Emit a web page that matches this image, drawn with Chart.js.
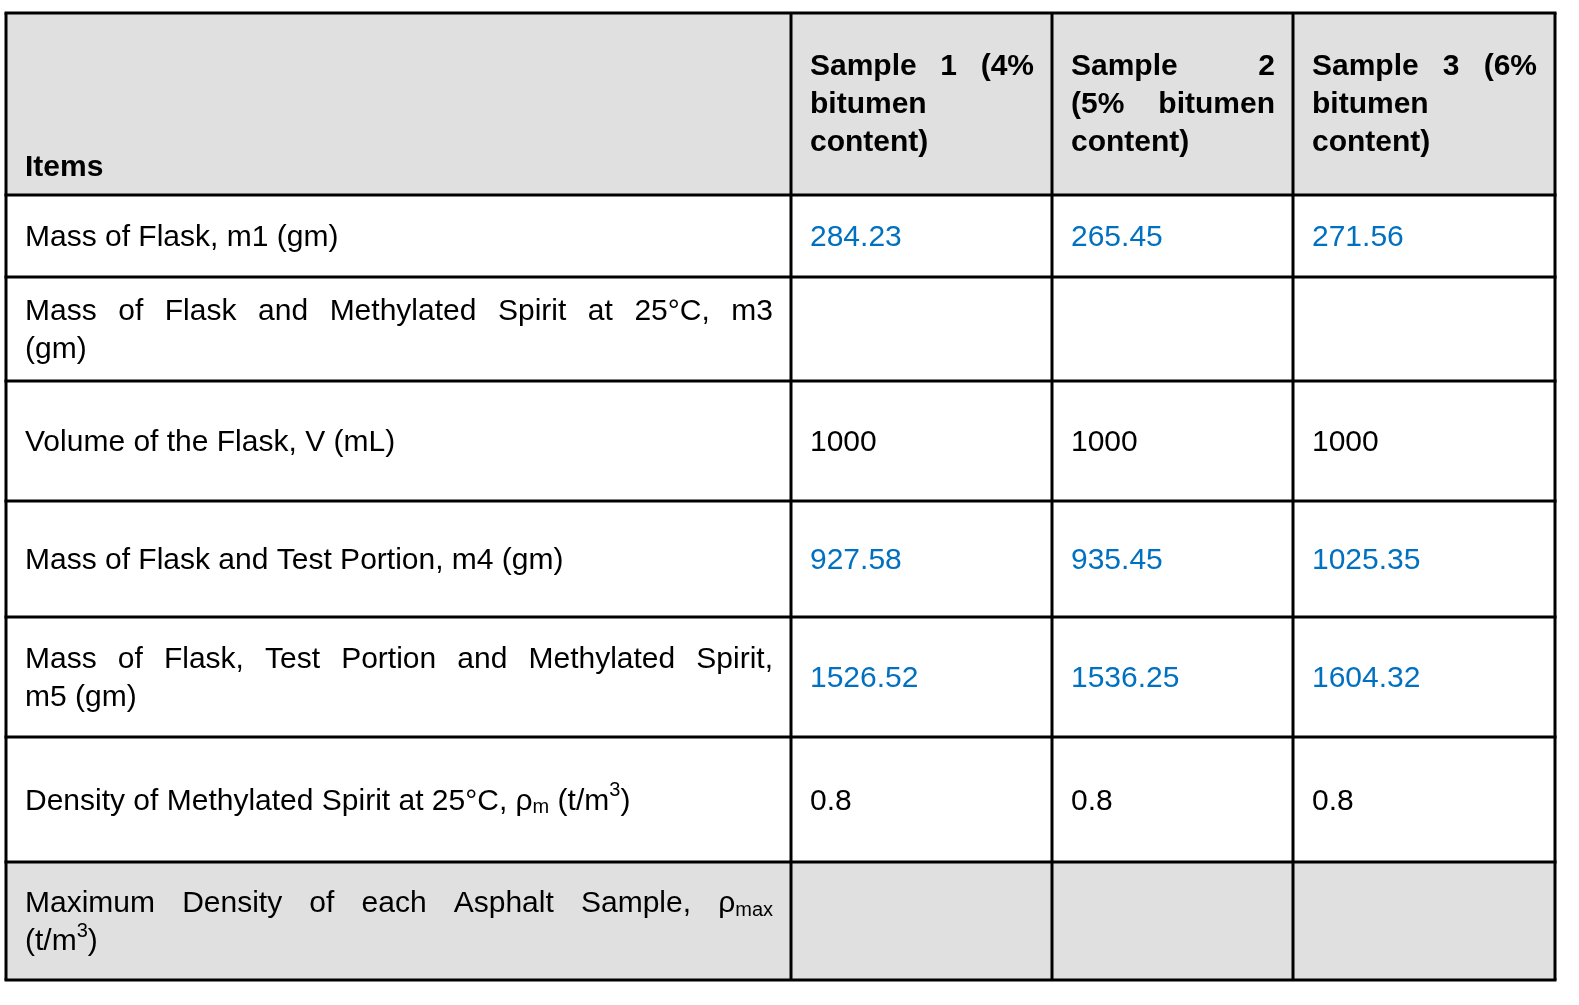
<!DOCTYPE html>
<html><head><meta charset="utf-8">
<script src="https://cdn.jsdelivr.net/npm/chart.js@4/dist/chart.umd.min.js"></script>
<style>html,body{margin:0;padding:0;background:#fff}#w{width:1579px;height:1005px}</style>
</head><body><div id="w"><canvas id="c"></canvas></div>
<script>
// Table content
const headers = [["Items"], ["Sample 1 (4%","bitumen","content)"], ["Sample 2","(5% bitumen","content)"], ["Sample 3 (6%","bitumen","content)"]];
const items = [
  ["Mass of Flask, m1 (gm)"],
  ["Mass of Flask and Methylated Spirit at 25°C, m3","(gm)"],
  ["Volume of the Flask, V (mL)"],
  ["Mass of Flask and Test Portion, m4 (gm)"],
  ["Mass of Flask, Test Portion and Methylated Spirit,","m5 (gm)"],
  ["Density of Methylated Spirit at 25°C, ρ_{m} (t/m^{3})"],
  ["Maximum Density of each Asphalt Sample, ρ_{max}","(t/m^{3})"]
];
const sample1 = ["284.23","","1000","927.58","1526.52","0.8",""];
const sample2 = ["265.45","","1000","935.45","1536.25","0.8",""];
const sample3 = ["271.56","","1000","1025.35","1604.32","0.8",""];
const blueRows = [0,3,4];
const colEdges = [6,791,1052,1293,1555];
const rowEdges = [13,195,277,381,501,617,737,862,980];
const grayRows = [0,8];

const FS = 30, LH = 38, PADL = 19, PADR = 18;
function runs(tok){ // parse _{..} ^{..}
  const out=[]; const re=/([_^])\{([^}]*)\}/g; let last=0,m;
  while((m=re.exec(tok))){ if(m.index>last) out.push({t:tok.slice(last,m.index),s:''}); out.push({t:m[2],s:m[1]}); last=re.lastIndex; }
  if(last<tok.length) out.push({t:tok.slice(last),s:''}); return out;
}
function fontFor(s,bold){return (bold?'bold ':'')+(s?Math.round(FS*0.65):FS)+'px "Liberation Sans", Arial, sans-serif';}
function tokW(ctx,tok,bold){let w=0;for(const r of runs(tok)){ctx.font=fontFor(r.s,bold);w+=ctx.measureText(r.t).width;}return w;}
function drawTok(ctx,tok,x,y,bold,color){for(const r of runs(tok)){ctx.font=fontFor(r.s,bold);ctx.fillStyle=color;const dy=r.s==='_'?6:r.s==='^'?-11:0;ctx.fillText(r.t,x,y+dy);x+=ctx.measureText(r.t).width;}}
function drawLine(ctx,line,x,w,y,bold,color,justify){
  const toks=line.split(' ').filter(t=>t.length);
  ctx.font=fontFor('',bold); const sp=ctx.measureText(' ').width;
  const tw=toks.reduce((a,t)=>a+tokW(ctx,t,bold),0);
  const gap=(justify&&toks.length>1)?(w-tw)/(toks.length-1):sp;
  for(const t of toks){drawTok(ctx,t,x,y,bold,color);x+=tokW(ctx,t,bold)+gap;}
}
const tablePlugin={id:'tbl',afterDraw(chart){
  const ctx=chart.ctx,xs=chart.scales.x,ys=chart.scales.y;
  const X=v=>xs.getPixelForValue(v),Y=v=>ys.getPixelForValue(v);
  ctx.save();
  // gray rows
  ctx.fillStyle='#e0e0e0';
  ctx.fillRect(X(colEdges[0]),Y(rowEdges[0]),X(colEdges[4])-X(colEdges[0]),Y(rowEdges[1])-Y(rowEdges[0]));
  ctx.fillRect(X(colEdges[0]),Y(rowEdges[7]),X(colEdges[4])-X(colEdges[0]),Y(rowEdges[8])-Y(rowEdges[7]));
  ctx.textBaseline='middle';
  const cols=[items,sample1,sample2,sample3];
  // header
  headers.forEach((h,c)=>{
    const x=X(colEdges[c])+PADL,w=X(colEdges[c+1])-X(colEdges[c])-PADL-PADR;
    if(c===0){drawLine(ctx,h[0],x,w,Y(168),true,'#000',false);return;}
    h.forEach((ln,i)=>drawLine(ctx,ln,x,w,Y(67+i*LH),true,'#000',i<h.length-1));
  });
  for(let r=0;r<items.length;r++){
    const cy=(Y(rowEdges[r+1])+Y(rowEdges[r+2]))/2;
    cols.forEach((col,c)=>{
      let lines=Array.isArray(col[r])?col[r]:[col[r]];
      const x=X(colEdges[c])+PADL,w=X(colEdges[c+1])-X(colEdges[c])-PADL-PADR;
      const color=(c>0&&blueRows.includes(r))?'#0070c0':'#000';
      const y0=cy-(lines.length-1)*LH/2+2;
      lines.forEach((ln,i)=>drawLine(ctx,ln,x,w,y0+i*LH,false,color,i<lines.length-1));
    });
  }
  // grid
  ctx.strokeStyle='#000';ctx.lineWidth=3;
  rowEdges.forEach(e=>{ctx.beginPath();ctx.moveTo(X(colEdges[0])-1.5,Y(e));ctx.lineTo(X(colEdges[4])+1.5,Y(e));ctx.stroke();});
  colEdges.forEach(e=>{ctx.beginPath();ctx.moveTo(X(e),Y(rowEdges[0]));ctx.lineTo(X(e),Y(rowEdges[8]));ctx.stroke();});
  ctx.restore();
}};
new Chart(document.getElementById('c'),{type:'scatter',data:{datasets:[{data:[]}]},
  options:{responsive:true,maintainAspectRatio:false,animation:false,layout:{padding:0},
    plugins:{legend:{display:false},tooltip:{enabled:false}},
    scales:{x:{type:'linear',min:0,max:1579,display:false},y:{type:'linear',min:0,max:1005,reverse:true,display:false}}},
  plugins:[tablePlugin]});
</script></body></html>
